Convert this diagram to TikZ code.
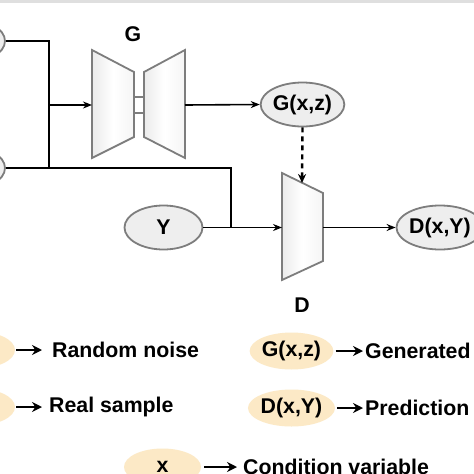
\documentclass[tikz,border=0pt]{standalone}
\usepackage{fontspec}
\setmainfont{Liberation Sans}
\usetikzlibrary{arrows.meta,shapes.geometric}
\definecolor{lineg}{RGB}{125,125,125}
\definecolor{ellfill}{RGB}{238,238,238}
\definecolor{beige}{RGB}{252,233,198}
\begin{document}
\begin{tikzpicture}[x=1pt,y=-1pt,
  txt/.style={font=\fontsize{21.3}{25}\selectfont\bfseries, inner sep=0pt},
  dnode/.style={ellipse, draw=lineg, line width=1.8pt, fill=ellfill, minimum width=78pt, minimum height=44pt, inner sep=0pt, font=\fontsize{21.3}{25}\selectfont\bfseries},
  lnode/.style={ellipse, fill=beige, minimum width=77pt, minimum height=37pt, inner sep=0pt, font=\fontsize{21.3}{25}\selectfont\bfseries},
  conn/.style={line width=1.6pt, black},
  arr/.style={conn, -{Stealth[length=9pt,width=7pt]}},
  larr/.style={line width=2.6pt, -{Stealth[length=10pt,width=10pt]}},
  block/.style={draw=lineg, line width=1.8pt, line join=miter, left color=gray!16, right color=gray!8, middle color=white}
]
\useasboundingbox (0,0) rectangle (474,474);
\clip (0,0) rectangle (474,474);
\fill[white] (0,0) rectangle (474,474);
\fill[gray!25] (0,0) rectangle (474,2.5);

% generator
\draw[block] (92,50) -- (134,72) -- (134,137) -- (92,158) -- cycle;
\draw[block] (144,72) -- (185,50) -- (185,158) -- (144,137) -- cycle;
\draw[draw=lineg, line width=1.8pt, fill=white] (134,97) rectangle (144,113);
\node[txt] (Glab) at (133,34) {G};
% discriminator
\draw[block] (282,173) -- (323,193) -- (323,261) -- (282,280) -- cycle;
\node[txt] (Dlab) at (302,305) {D};

\coordinate (Gin) at (92,105);
\coordinate (Gout) at (185,105);
\coordinate (Din) at (282,227.5);
\coordinate (Dout) at (323,227.5);
\coordinate (Dtop) at (302,183);

% nodes
\node[dnode] (zin) at (-34,41) {};
\node[dnode] (xin) at (-34,168) {};
\node[dnode] (Gxz) at (302.5,104.5) {G(x,z)};
\node[dnode] (Y) at (163.5,227.5) {Y};
\node[dnode] (Dxy) at (440,227.5) {D(x,Y)};

\coordinate (jA) at (49,105);
\coordinate (jB) at (49,168);
\coordinate (jC) at (231,168);
\coordinate (jD) at (231,227.5);

% connectors
\draw[conn] (zin.east) -| (jB);
\draw[conn] (xin.east) -- (jC) -- (jD);
\draw[arr] (jA) -- (Gin);
\draw[arr] (Gout) -- (Gxz.west);
\draw[arr] (Y.east) -- (Din);
\draw[arr] (Dout) -- (Dxy.west);
\draw[line width=2.4pt, dash pattern=on 5pt off 4pt, -{Stealth[length=9pt,width=8pt]}] (Gxz.south) -- (Dtop);

% legend
\node[lnode] (l1) at (-23.5,350) {};
\node[lnode] (l2) at (-23.5,407) {};
\node[txt, anchor=west] (t1) at (52,350) {Random noise};
\node[txt, anchor=west] (t2) at (49,407) {Real sample};
\draw[larr, shorten <=1pt, shorten >=10pt] (l1.east) -- (t1.west);
\draw[larr, shorten <=1pt, shorten >=7pt] (l2.east) -- (t2.west);

\node[lnode] (l3) at (291.5,351) {G(x,z)};
\node[lnode] (l4) at (291.5,408) {D(x,Y)};
\node[txt, anchor=west] (t3) at (365,351) {Generated};
\node[txt, anchor=west] (t4) at (365,408) {Prediction};
\draw[larr, shorten <=2pt, shorten >=2pt] (l3.east) -- (t3.west);
\draw[larr, shorten <=2pt, shorten >=2pt] (l4.east) -- (t4.west);

\node[lnode] (l5) at (162.5,467) {x};
\node[txt, anchor=west] (t5) at (243,467) {Condition variable};
\draw[larr, shorten <=3pt, shorten >=6pt] (l5.east) -- (t5.west);
\end{tikzpicture}
\end{document}
